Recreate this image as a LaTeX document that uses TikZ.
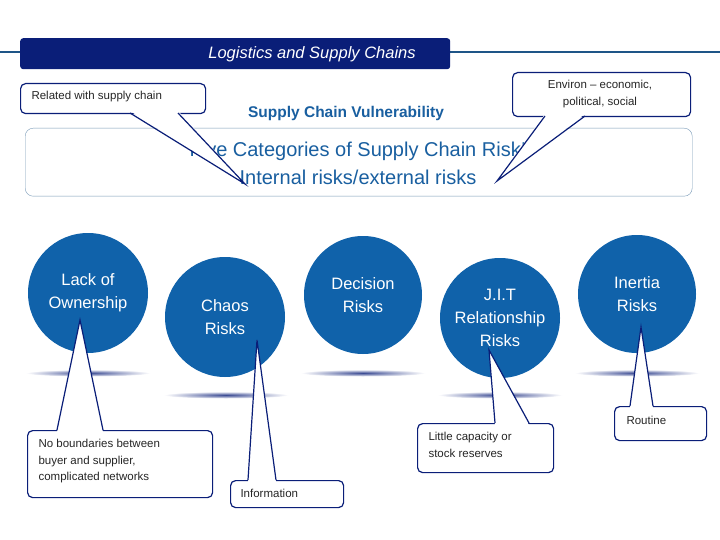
\documentclass[tikz,border=0pt]{standalone}
\usepackage{fontspec}
\setmainfont{Liberation Sans}
\begin{document}
\begin{tikzpicture}[x=1pt,y=-1pt,
  circ/.style={circle,fill=cblue,text=white,minimum size=#1,inner sep=0pt,align=center,font=\fontsize{16.5}{23}\selectfont},
  co/.style={draw=navy,line width=1.2pt,fill=white,rounded corners=5pt,font=\fontsize{11.5}{16.5}\selectfont,text=black!85,inner sep=0pt},
  wedge/.style={fill=white},
  wline/.style={draw=navy,line width=1.2pt}]
\definecolor{cblue}{RGB}{16,98,170}
\definecolor{navy}{RGB}{10,30,120}
\definecolor{tblue}{RGB}{25,95,160}
\definecolor{lineblue}{RGB}{30,85,135}
\useasboundingbox[fill=white] (0,0) rectangle (720,540);
% top band
\draw[lineblue,line width=2.5pt] (0,52) -- (720,52);
\node[fill=navy,rounded corners=3pt,minimum width=430,minimum height=31,anchor=north west,inner sep=0pt] (title) at (20,38) {};
\node[text=white,font=\fontsize{16.5}{20}\selectfont\itshape] (titletext) at (312,54) {Logistics and Supply Chains};
% shadows
\foreach \cx/\cy in {88/373,226/395,363/373,500/395,637/373}
  \shade[inner color=navy!80,outer color=white] (\cx,\cy) ellipse (62 and 3.5);
% circles
\node[circ=120] (lack) at (88,293) {Lack of\\Ownership};
\node[circ=120] (chaos) at (225,317) {Chaos\\Risks};
\node[circ=118] (dec) at (363,295) {Decision\\Risks};
\node[circ=120] (jit) at (500,318) {J.I.T\\Relationship\\Risks};
\node[circ=118] (inertia) at (637,294) {Inertia\\Risks};
% big box
\node[draw=lineblue!60,rounded corners=8pt,minimum width=667,minimum height=68,anchor=north west,inner sep=0pt] (big) at (25,128) {};
\node[text=tblue,font=\fontsize{20}{28}\selectfont,align=center] (bigtext) at (358,163) {Five Categories of Supply Chain Risk!\\Internal risks/external risks};
\node[text=tblue,font=\bfseries\fontsize{15.5}{18}\selectfont] (scv) at (346,113) {Supply Chain Vulnerability};
% callout 1
\node[co,minimum width=185,minimum height=30,anchor=north west] (c1) at (20,83) {};
\node[font=\fontsize{11.5}{14}\selectfont,text=black!85,anchor=west] (c1t) at (28,97) {Related with supply chain};
\coordinate (t1) at (245,184);
\fill[wedge] (130,111) -- (t1) -- (178,111) -- cycle;
\draw[wline] (130,113) -- (t1) -- (178,113);
% callout 2
\node[co,minimum width=178,minimum height=44,anchor=north west] (c2) at (512,72) {};
\node[font=\fontsize{11.5}{16.5}\selectfont,text=black!85,align=center] (c2t) at (600,94) {Environ -- economic,\\political, social};
\coordinate (t2) at (497,181);
\fill[wedge] (545,114) -- (t2) -- (585,114) -- cycle;
\draw[wline] (545,116) -- (t2) -- (585,116);
% callout lack
\node[co,minimum width=185,minimum height=67,anchor=north west] (c3) at (27,430) {};
\node[font=\fontsize{11.5}{16.5}\selectfont,text=black!85,align=left,anchor=north west] (c3t) at (35,436) {No boundaries between\\buyer and supplier,\\complicated networks};
\coordinate (t3) at (80,320);
\fill[wedge] (57,432) -- (t3) -- (103,432) -- cycle;
\draw[wline] (57,430) -- (t3) -- (103,430);
% callout info
\node[co,minimum width=113,minimum height=27,anchor=north west] (c4) at (230,480) {};
\node[font=\fontsize{11.5}{14}\selectfont,text=black!85,anchor=west] (c4t) at (237,493) {Information};
\coordinate (t4) at (257,340);
\fill[wedge] (248,482) -- (t4) -- (276,482) -- cycle;
\draw[wline] (248,480) -- (t4) -- (276,480);
% callout capacity
\node[co,minimum width=136,minimum height=49,anchor=north west] (c5) at (417,423) {};
\node[font=\fontsize{11.5}{16.5}\selectfont,text=black!85,align=left,anchor=north west] (c5t) at (425,429) {Little capacity or\\stock reserves};
\coordinate (t5) at (489,350);
\fill[wedge] (495,425) -- (t5) -- (529,425) -- cycle;
\draw[wline] (495,423) -- (t5) -- (529,423);
% callout routine
\node[co,minimum width=92,minimum height=34,anchor=north west] (c6) at (614,406) {};
\node[font=\fontsize{11.5}{14}\selectfont,text=black!85,anchor=west] (c6t) at (623,420) {Routine};
\coordinate (t6) at (641,327);
\fill[wedge] (630,408) -- (t6) -- (653,408) -- cycle;
\draw[wline] (630,406) -- (t6) -- (653,406);
\end{tikzpicture}
\end{document}
